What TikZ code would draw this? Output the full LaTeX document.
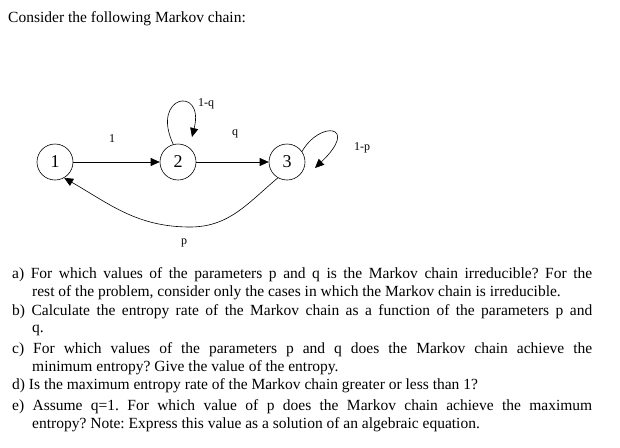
\documentclass[tikz,border=0pt]{standalone}
\usepackage{fontspec}
\setmainfont{Liberation Serif}
\usetikzlibrary{arrows.meta}
\begin{document}
\frenchspacing
\begin{tikzpicture}[x=1pt,y=-1pt,
  st/.style={circle,draw,line width=0.6pt,minimum size=36pt,inner sep=0pt,font=\fontsize{18}{18}\selectfont},
  tr/.style={-{Triangle[length=9pt,width=8pt]},line width=0.6pt},
  lb/.style={font=\fontsize{12}{12}\selectfont},
  ln/.style={anchor=base west,inner sep=0pt,font=\fontsize{15.5}{18}\selectfont}]
\useasboundingbox (0,0) rectangle (620,447);
\node[ln] (t) at (8,22) {Consider the following Markov chain:};
\node[st] (n1) at (55,162) {1};
\node[st] (n2) at (178,162) {2};
\node[st] (n3) at (287,162) {3};
\draw[tr] (n1) -- (n2);
\draw[tr] (n2) -- (n3);
\draw[tr] (n2.105) .. controls (150,95) and (205,85) .. (192,137);
\draw[tr] (n3.35) .. controls (320,120) and (360,125) .. (315,168);
\draw[tr] (n3.240) to[out=220,in=0] (190,227) to[out=180,in=-30] (n1.300);
\node[lb] (l1) at (112,139) {1};
\node[lb] (lq1) at (206,104) {1-q};
\node[lb] (lq) at (235,134) {q};
\node[lb] (lp1) at (362,148) {1-p};
\node[lb] (lp) at (184,243) {p};
\node[ln] (a1) at (12,278) {\makebox[580pt][s]{a) For which values of the parameters p and q is the Markov chain irreducible? For the}};
\node[ln] (a2) at (32,296) {rest of the problem, consider only the cases in which the Markov chain is irreducible.};
\node[ln] (b1) at (12,315) {\makebox[580pt][s]{b) Calculate the entropy rate of the Markov chain as a function of the parameters p and}};
\node[ln] (b2) at (32,332) {q.};
\node[ln] (c1) at (12,353) {\makebox[580pt][s]{c) For which values of the parameters p and q does the Markov chain achieve the}};
\node[ln] (c2) at (32,371) {minimum entropy? Give the value of the entropy.};
\node[ln] (d1) at (12,389) {d) Is the maximum entropy rate of the Markov chain greater or less than 1?};
\node[ln] (e1) at (12,410) {\makebox[580pt][s]{e) Assume q=1. For which value of p does the Markov chain achieve the maximum}};
\node[ln] (e2) at (32,428) {entropy? Note: Express this value as a solution of an algebraic equation.};
\end{tikzpicture}
\end{document}
